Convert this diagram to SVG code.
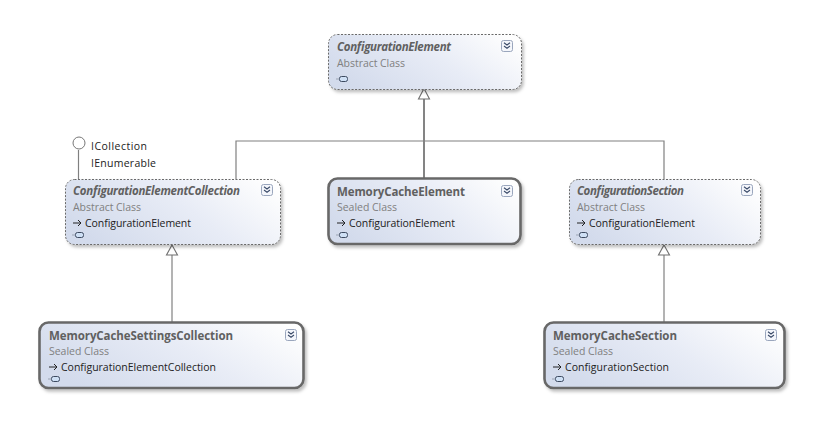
<svg xmlns="http://www.w3.org/2000/svg" width="826" height="430" viewBox="0 0 826 430">
<defs>
<linearGradient id="g" x1="0" y1="0.6" x2="1" y2="0.2"><stop offset="0" stop-color="#d3dbec"/><stop offset="0.55" stop-color="#e8ecf6"/><stop offset="1" stop-color="#fefefe"/></linearGradient>
<filter id="s" x="-5%" y="-10%" width="110%" height="125%"><feDropShadow dx="2" dy="2.5" stdDeviation="1.5" flood-color="#000" flood-opacity="0.25"/></filter>
<symbol id="btn" width="12" height="12" viewBox="0 0 12 12" overflow="visible"><rect x="0.5" y="0.5" width="11" height="11" rx="2" fill="#f4f6fb" stroke="#9aa6bd"/><path d="M3 2.800 6 5 9 2.800M3 6 6 8.200 9 6" fill="none" stroke="#3a4a68" stroke-width="1.100"/></symbol>
<symbol id="mem" width="14" height="8" viewBox="0 0 14 8" overflow="visible"><path d="M1 4H4" stroke="#9aa3b2"/><rect x="4.500" y="1.500" width="8" height="5" rx="2" fill="#cfe0f5" stroke="#3d4a60"/></symbol>
</defs>
<style>
.t{font-family:"Open Sans","Noto Sans",sans-serif}
.a{fill:url(#g);stroke:#6a6a6a;stroke-width:1;stroke-dasharray:2 1.500;filter:url(#s)}
.c{fill:url(#g);stroke:#686868;stroke-width:2.600;filter:url(#s)}
.n{font-size:11.500px;font-weight:700;fill:#606060}
.i{font-style:italic}
.k{font-size:10.500px;fill:#808080}
.b{font-size:10.500px;fill:#222}
.l{fill:none;stroke:#808080;stroke-width:1.200}
.m{fill:none;stroke:#777;stroke-width:1.800}
.h{fill:#fff;stroke:#707070;stroke-width:1.100}
.ar{fill:none;stroke:#222;stroke-width:1}
</style>
<rect width="826" height="430" fill="#fff"/>
<g id="connectors">
<path class="m" d="M424 98V178"/>
<path class="l" d="M236 179V141H664V179"/>
<path class="l" d="M78.500 179V150"/>
<path class="l" d="M172 255V322"/>
<path class="l" d="M664 255V322"/>
<path class="h" d="M424 88.500 429.500 99H418.500Z"/>
<path class="h" d="M172 245 177.500 255H166.500Z"/>
<path class="h" d="M664 245 669.500 255H658.500Z"/>
<circle cx="79" cy="143" r="6" fill="#fff" stroke="#777" stroke-width="1"/>
</g>
<g id="lollipop-labels">
<text class="t b" x="91" y="150" textLength="56">ICollection</text>
<text class="t b" x="91" y="167" textLength="65">IEnumerable</text>
</g>
<g id="configuration-element">
<rect class="a" x="328.500" y="34.500" width="193" height="55" rx="9"/>
<text class="t n i" x="337" y="51" textLength="114">ConfigurationElement</text>
<text class="t k" x="337" y="67" textLength="68">Abstract Class</text>
<use href="#mem" x="335" y="75"/>
<use href="#btn" x="501" y="40"/>
</g>
<g id="configuration-element-collection">
<rect class="a" x="65.500" y="179.500" width="215" height="65" rx="9"/>
<text class="t n i" x="73" y="195" textLength="167">ConfigurationElementCollection</text>
<text class="t k" x="73" y="211" textLength="68">Abstract Class</text>
<path class="ar" d="M73 223H81M78 220 81 223 78 226"/>
<text class="t b" x="85" y="227" textLength="106">ConfigurationElement</text>
<use href="#mem" x="71" y="231"/>
<use href="#btn" x="261" y="184"/>
</g>
<g id="memory-cache-element">
<rect class="c" x="328.500" y="178.500" width="192" height="65.500" rx="9"/>
<text class="t n" x="337" y="196" textLength="128">MemoryCacheElement</text>
<text class="t k" x="337" y="211" textLength="60">Sealed Class</text>
<path class="ar" d="M337 223H345M342 220 345 223 342 226"/>
<text class="t b" x="349" y="227" textLength="106">ConfigurationElement</text>
<use href="#mem" x="335" y="231"/>
<use href="#btn" x="501" y="185"/>
</g>
<g id="configuration-section">
<rect class="a" x="569.500" y="179.500" width="191" height="65" rx="9"/>
<text class="t n i" x="577" y="195" textLength="107">ConfigurationSection</text>
<text class="t k" x="577" y="211" textLength="68">Abstract Class</text>
<path class="ar" d="M577 223H585M582 220 585 223 582 226"/>
<text class="t b" x="589" y="227" textLength="106">ConfigurationElement</text>
<use href="#mem" x="575" y="231"/>
<use href="#btn" x="741" y="184"/>
</g>
<g id="memory-cache-settings-collection">
<rect class="c" x="39.500" y="322.500" width="264" height="65.500" rx="9"/>
<text class="t n" x="49" y="340" textLength="184">MemoryCacheSettingsCollection</text>
<text class="t k" x="49" y="355" textLength="60">Sealed Class</text>
<path class="ar" d="M49 367H57M54 364 57 367 54 370"/>
<text class="t b" x="61" y="371" textLength="155">ConfigurationElementCollection</text>
<use href="#mem" x="47" y="375"/>
<use href="#btn" x="285" y="329"/>
</g>
<g id="memory-cache-section">
<rect class="c" x="544.500" y="322.500" width="240" height="65.500" rx="9"/>
<text class="t n" x="553" y="340" textLength="124">MemoryCacheSection</text>
<text class="t k" x="553" y="355" textLength="60">Sealed Class</text>
<path class="ar" d="M553 367H561M558 364 561 367 558 370"/>
<text class="t b" x="565" y="371" textLength="104">ConfigurationSection</text>
<use href="#mem" x="551" y="375"/>
<use href="#btn" x="765" y="329"/>
</g>
</svg>
